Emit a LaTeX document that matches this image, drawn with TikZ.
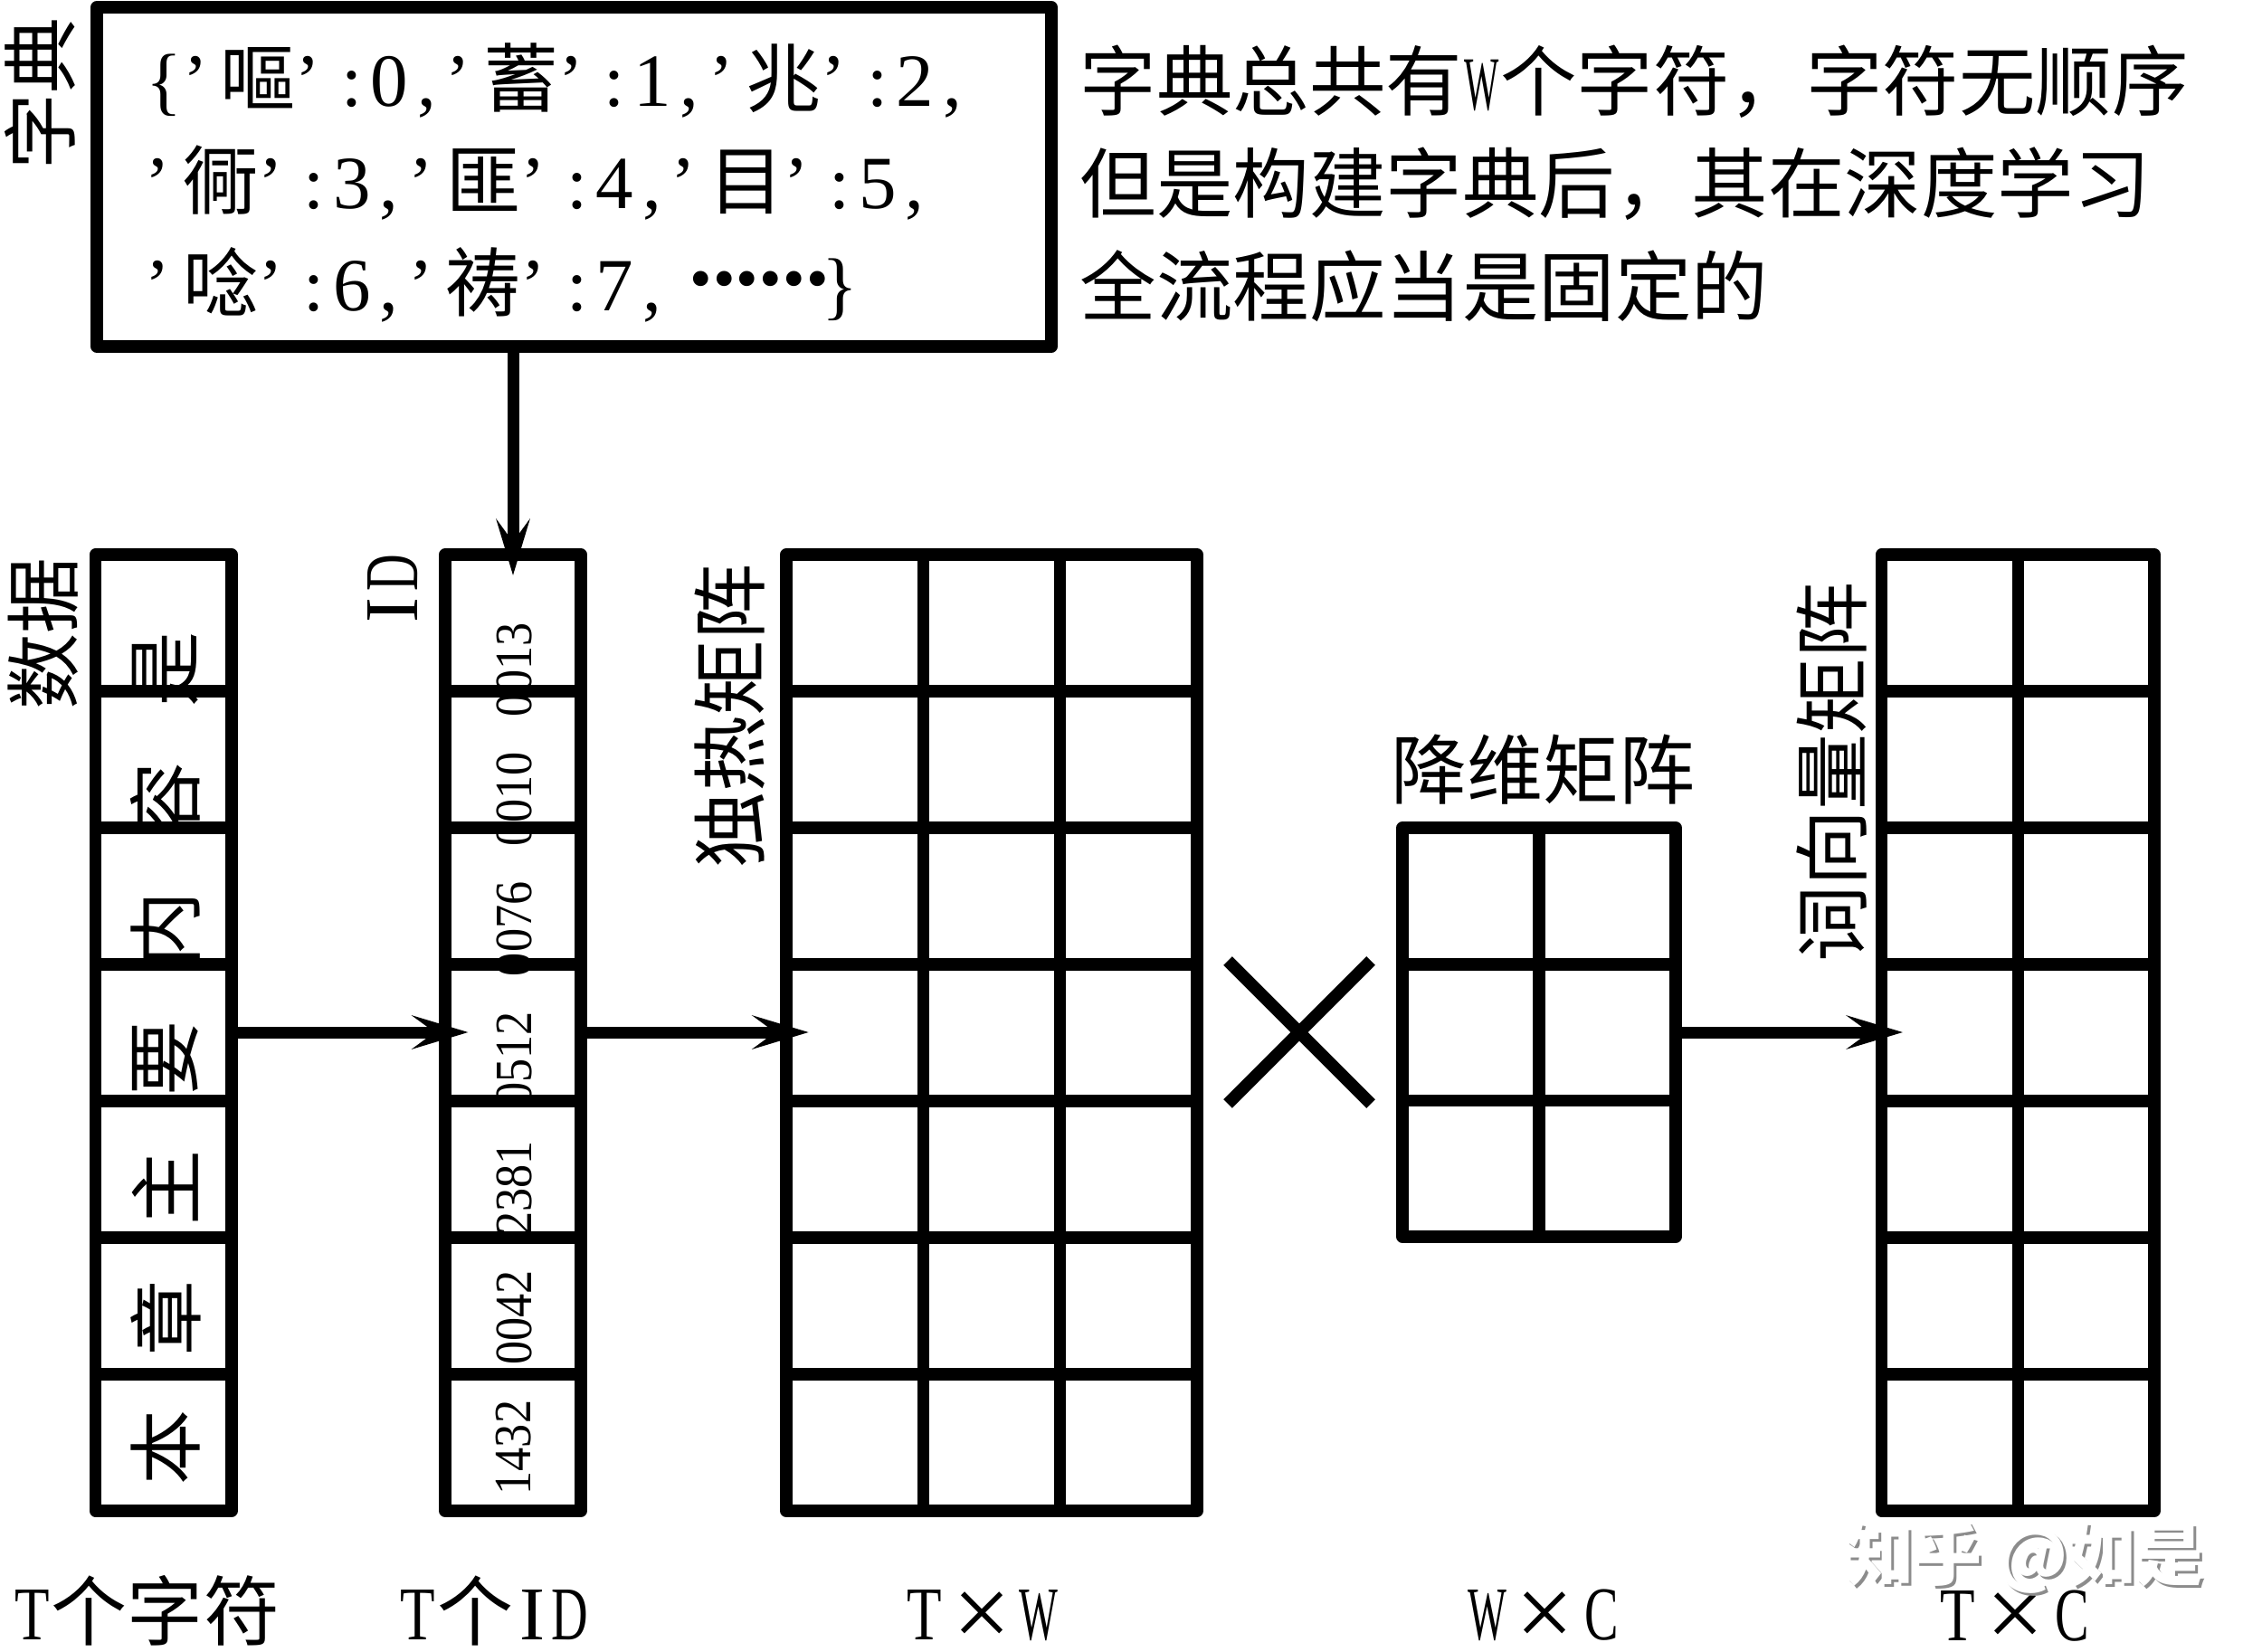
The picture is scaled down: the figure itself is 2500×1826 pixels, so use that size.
\documentclass[tikz,border=0pt]{standalone}
\usepackage{fontspec}
\usepackage{graphicx}
\setmainfont{Liberation Serif}
\newfontfamily\cjk{Noto Sans CJK SC}
\usetikzlibrary{arrows.meta,calc}
\newcommand\fsz[1]{\fontsize{#1pt}{#1pt}\selectfont}
\newcommand\hc[1]{\makebox[0.5em][c]{#1}}
\newcommand\hl[1]{\makebox[0.5em][l]{#1}}
\newcommand\qt{\hl{’}}
\newcommand\sx[2]{\scalebox{#1}[1]{#2}}
\newcommand\bigx{\makebox[1em]{\raisebox{-0.1em}{\scalebox{1.35}{×}}}}
\newcommand\dotsix{\makebox[2em][l]{\hspace{0.25em}\raisebox{5pt}{\makebox[1.85em][s]{\fsz{28}•\hfil•\hfil•\hfil•\hfil•\hfil•}}}}
\tikzset{
  mat/.style={draw, line width=5.4pt, line join=round, inner sep=0pt},
  gl/.style={line width=5.4pt},
  arr/.style={line width=5.2pt, -{Stealth[length=24.8pt, width=14.8pt, inset=10pt]}},
  lbl/.style={inner sep=0pt, font=\fsz{33.6}\cjk},
  rlbl/.style={lbl, rotate=90},
  dtxt/.style={inner sep=0pt, anchor=base west, font=\fsz{33.2}},
  rtxt/.style={inner sep=0pt, anchor=base west, font=\fsz{33.8}},
  blbl/.style={inner sep=0pt, anchor=base, font=\fsz{33.6}},
  dch/.style={inner sep=0pt, rotate=90, font=\fsz{33.2}\cjk},
  idn/.style={inner sep=0pt, rotate=90, font=\fsz{23.2}},
}
\begin{document}
\begin{tikzpicture}[x=0.4pt, y=0.4pt]
\useasboundingbox (0,0) rectangle (2500,-1826);

% ---------- dictionary ----------
\node[mat, minimum width=422pt, minimum height=150pt] (dict) at (634.5,-195.5) {};
\node[rlbl] (dictlbl) at (44,-103) {字典};
\node[dtxt] (d1) at (160,-117.5) {\hc{\{}\qt{\cjk 嘔}\qt\hc{:}\hc{0}\hc{,}\qt{\cjk 蓄}\qt\hc{:}\hc{1}\hc{,}\qt{\cjk 兆}\qt\hc{:}\hc{2}\hc{,}};
\node[dtxt] (d2) at (160,-230.5) {\qt{\cjk 衕}\qt\hc{:}\hc{3}\hc{,}\qt{\cjk 匪}\qt\hc{:}\hc{4}\hc{,}\qt{\cjk 目}\qt\hc{:}\hc{5}\hc{,}};
\node[dtxt] (d3) at (160,-343.5) {\qt{\cjk 唸}\qt\hc{:}\hc{6}\hc{,}\qt{\cjk 祷}\qt\hc{:}\hc{7}\hc{,}\dotsix\hc{\}}};

\node[rtxt] (r1) at (1193,-121) {{\cjk 字典总共有}\hc{\sx{0.48}{W}}{\cjk 个字符，字符无顺序}};
\node[rtxt] (r2) at (1193,-234) {\cjk 但是构建字典后，其在深度学习};
\node[rtxt] (r3) at (1193,-348) {\cjk 全流程应当是固定的};

% ---------- data column ----------
\node[rlbl] (datalbl) at (48,-700) {数据};
\foreach \c [count=\i from 0] in {本,章,主,要,内,容,是}
  \node[dch] (ch\i) at (183,{-1600+143.3*\i}) {\c};
\node[mat, minimum width=60.16pt, minimum height=422.8pt] (data) at (180.8,-1141.5) {};
\foreach \k in {1,...,6}
  \draw[gl] (105.6,{-613-151*\k}) -- (256,{-613-151*\k});

% ---------- ID column ----------
\node[lbl, rotate=90, font=\fsz{33.6}] (idlbl) at (434,-654) {\hc{I}\hc{\sx{0.67}{D}}};
\foreach \n [count=\i from 0] in {1432,0042,2381,0512,0076,0010,0013}
  \node[idn] (n\i) at (568,{-1600+143.3*\i}) {\sx{0.9}{\n}};
\node[mat, minimum width=60pt, minimum height=422.8pt] (id) at (567,-1141.5) {};
\foreach \k in {1,...,6}
  \draw[gl] (492,{-613-151*\k}) -- (642,{-613-151*\k});

% ---------- one-hot matrix ----------
\node[rlbl] (ohlbl) at (807,-791) {独热矩阵};
\node[mat, minimum width=181.6pt, minimum height=422.8pt] (oh) at (1096,-1141.5) {};
\foreach \k in {1,...,6}
  \draw[gl] (869,{-613-151*\k}) -- (1323,{-613-151*\k});
\foreach \xx in {1020.3,1171.7}
  \draw[gl] (\xx,-613) -- (\xx,-1670);

% ---------- multiplication sign ----------
\draw[gl] (1357,-1062) -- (1515,-1220);
\draw[gl] (1357,-1220) -- (1515,-1062);

% ---------- reduction matrix ----------
\node[lbl] (dimlbl) at (1705,-851) {降维矩阵};
\node[mat, minimum width=120.8pt, minimum height=180.8pt] (dim) at (1701,-1141) {};
\draw[gl] (1701,-915) -- (1701,-1367);
\draw[gl] (1550,-1066) -- (1852,-1066);
\draw[gl] (1550,-1216.5) -- (1852,-1216.5);

% ---------- word vector matrix ----------
\node[rlbl] (wvlbl) at (2024.5,-853) {词向量矩阵};
\node[mat, minimum width=120.6pt, minimum height=422.8pt] (wv) at (2230.25,-1141.5) {};
\foreach \k in {1,...,6}
  \draw[gl] (2079.5,{-613-151*\k}) -- (2381,{-613-151*\k});
\draw[gl] (2230.25,-613) -- (2230.25,-1670);

% ---------- arrows ----------
\coordinate (t1) at (567,-636);
\coordinate (t2) at (517.5,-1141);
\coordinate (t3) at (893.7,-1141);
\coordinate (t4) at (2103,-1141);
\draw[arr] (t1 |- dict.south) -- (t1);
\draw[arr] (data.east |- t2) -- (t2);
\draw[arr] (id.east |- t3) -- (t3);
\draw[arr] (dim.east |- t4) -- (t4);

% ---------- bottom labels ----------
\node[blbl] (b1) at (162,-1812) {\hc{\sx{0.75}{T}}{\cjk 个字符}};
\node[blbl] (b2) at (546,-1812) {\hc{\sx{0.75}{T}}{\cjk 个}\hc{I}\hc{\sx{0.67}{D}}};
\node[blbl] (b3) at (1085,-1812) {\hc{\sx{0.75}{T}}\bigx\hc{\sx{0.54}{W}}};
\node[blbl] (b4) at (1707,-1812) {\hc{\sx{0.54}{W}}\bigx\hc{\sx{0.67}{C}}};
\node[blbl] (b5) at (2227,-1813) {\hc{\sx{0.75}{T}}\bigx\hc{\sx{0.67}{C}}};

% ---------- watermark ----------
\node[inner sep=0pt, font=\fsz{30}\cjk\bfseries, text=black!45] (wm0) at (2241,-1725) {知乎 @如是};
\node[inner sep=0pt, font=\fsz{30}\cjk\bfseries, text=white] (wm) at (2238,-1722) {知乎 @如是};
\end{tikzpicture}
\end{document}
